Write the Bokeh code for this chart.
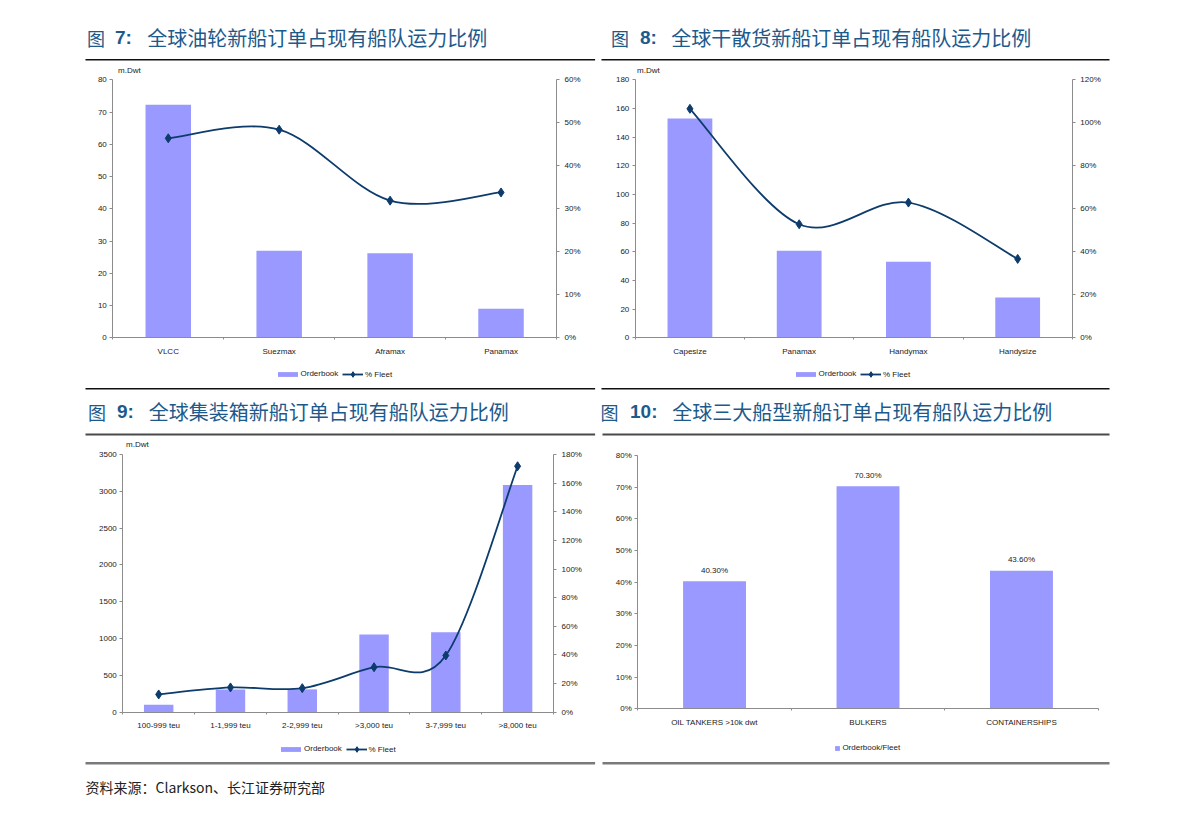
from bokeh.plotting import figure
from bokeh.models import (Range1d, LinearAxis, FixedTicker, Legend, LegendItem,
                          PrintfTickFormatter, ColumnDataSource)
from bokeh.core.properties import value
from bokeh.embed import file_html
from bokeh.resources import INLINE

# ---------------- data ----------------
tanker_cats = ["VLCC", "Suezmax", "Aframax", "Panamax"]
tanker_orderbook = [72.3, 27.0, 26.2, 9.0]          # m.Dwt
tanker_fleet_pct = [46.4, 48.4, 31.9, 33.8]         # % of fleet
tanker_left_ticks = [0, 10, 20, 30, 40, 50, 60, 70, 80]
tanker_right_ticks = [0, 10, 20, 30, 40, 50, 60]

bulk_cats = ["Capesize", "Panamax", "Handymax", "Handysize"]
bulk_orderbook = [153.0, 60.7, 53.0, 28.1]
bulk_fleet_pct = [106.5, 52.8, 62.9, 36.7]
bulk_left_ticks = [0, 20, 40, 60, 80, 100, 120, 140, 160, 180]
bulk_right_ticks = [0, 20, 40, 60, 80, 100, 120]

box_cats = ["100-999 teu", "1-1,999 teu", "2-2,999 teu", ">3,000 teu", "3-7,999 teu", ">8,000 teu"]
box_orderbook = [100, 310, 310, 1055, 1087, 3085]
box_fleet_pct = [12.4, 17.3, 16.8, 31.4, 39.6, 171.8]
box_left_ticks = [0, 500, 1000, 1500, 2000, 2500, 3000, 3500]
box_right_ticks = [0, 20, 40, 60, 80, 100, 120, 140, 160, 180]

type_cats = ["OIL TANKERS >10k dwt", "BULKERS", "CONTAINERSHIPS"]
type_ratio_pct = [40.3, 70.3, 43.6]
type_ticks = [0, 10, 20, 30, 40, 50, 60, 70, 80]

titles = [
    ("图", "7:", "全球油轮新船订单占现有船队运力比例"),
    ("图", "8:", "全球干散货新船订单占现有船队运力比例"),
    ("图", "9:", "全球集装箱新船订单占现有船队运力比例"),
    ("图", "10:", "全球三大船型新船订单占现有船队运力比例"),
]
source_note = "资料来源：Clarkson、长江证券研究部"

# ---------------- style ----------------
W, H = 1190, 815
BAR = "#9999FF"
LINE = "#0C3B6C"
AXIS = "#8C8C8C"
TXT = "#1A1A1A"
TITLE = "#1D5A8C"
FONT = "Liberation Sans"
CJK = "Noto Sans CJK SC"

p = figure(width=W, height=H, output_backend="svg", toolbar_location=None,
           x_range=Range1d(0, W), y_range=Range1d(H, 0), min_border=0,
           x_axis_type=None, y_axis_type=None, outline_line_color=None,
           background_fill_color="white", border_fill_color="white")
p.grid.visible = False


def add_x_range(name, n, x0, x1):
    k = (x1 - x0) / n
    s = -x0 / k
    p.extra_x_ranges[name] = Range1d(s, s + W / k)


def add_y_range(name, vmax, ytop, ybot):
    k = (ybot - ytop) / vmax
    b = ybot / k
    p.extra_y_ranges[name] = Range1d(b - H / k, b)


def style_axis(ax, standoff):
    ax.axis_line_color = AXIS
    ax.major_tick_line_color = AXIS
    ax.major_tick_out = 3
    ax.major_tick_in = 0
    ax.minor_tick_line_color = None
    ax.major_label_text_font = FONT
    ax.major_label_text_font_size = "8px"
    ax.major_label_text_color = TXT
    ax.major_label_standoff = standoff


def smooth_segments(xs, ys):
    n = len(xs)
    d = dict(x0=[], y0=[], x1=[], y1=[], cx0=[], cy0=[], cx1=[], cy1=[])
    for i in range(n - 1):
        im, i2 = max(i - 1, 0), min(i + 2, n - 1)
        d["x0"].append(xs[i]); d["y0"].append(ys[i])
        d["x1"].append(xs[i + 1]); d["y1"].append(ys[i + 1])
        d["cx0"].append(xs[i] + (xs[i + 1] - xs[im]) / 6)
        d["cy0"].append(ys[i] + (ys[i + 1] - ys[im]) / 6)
        d["cx1"].append(xs[i + 1] - (xs[i2] - xs[i]) / 6)
        d["cy1"].append(ys[i + 1] - (ys[i2] - ys[i]) / 6)
    return d


def add_legend(label, renderers, x_left, yc, gw, gh, standoff, lh=8):
    h = max(gh, lh)
    lg = Legend(items=[LegendItem(label=label, renderers=renderers)],
                location=(x_left, H - yc - h / 2), orientation="horizontal",
                padding=0, margin=0, spacing=0, glyph_width=gw, glyph_height=gh,
                label_height=lh, label_width=10, label_standoff=standoff,
                label_text_font=FONT, label_text_font_size="8px", label_text_color=TXT,
                border_line_color=None, background_fill_alpha=0)
    p.add_layout(lg)


def panel(key, cats, bars, frame, left_ticks, pct=None, right_ticks=None,
          left_pct=False, unit_pos=None):
    x0, x1, ytop, ybot = frame
    n = len(cats)
    xn, yn, y2n = key + "x", key + "y", key + "y2"
    add_x_range(xn, n, x0, x1)
    add_y_range(yn, left_ticks[-1], ytop, ybot)
    centers = [i + 0.5 for i in range(n)]

    src = ColumnDataSource(dict(x=centers, top=bars, cat=cats))
    rb = p.vbar(x="x", top="top", bottom=0, width=0.41, source=src,
                x_range_name=xn, y_range_name=yn, fill_color=BAR, line_color=None)

    ax = LinearAxis(y_range_name=yn, fixed_location=x0, bounds=(0, left_ticks[-1]),
                    ticker=FixedTicker(ticks=left_ticks))
    if left_pct:
        ax.formatter = PrintfTickFormatter(format="%d%%")
    style_axis(ax, 3)
    p.add_layout(ax, "left")

    bx = LinearAxis(x_range_name=xn, fixed_location=ybot, bounds=(0, n),
                    ticker=FixedTicker(ticks=centers, minor_ticks=list(range(n + 1))),
                    major_label_overrides={c: s for c, s in zip(centers, cats)})
    style_axis(bx, 7)
    bx.major_tick_out = 0
    bx.major_tick_line_color = None
    bx.minor_tick_line_color = AXIS
    bx.minor_tick_out = 2
    bx.minor_tick_in = 0
    p.add_layout(bx, "below")

    rl = rs = None
    if pct is not None:
        add_y_range(y2n, right_ticks[-1], ytop, ybot)
        rx = LinearAxis(y_range_name=y2n, fixed_location=x1, bounds=(0, right_ticks[-1]),
                        ticker=FixedTicker(ticks=right_ticks),
                        formatter=PrintfTickFormatter(format="%d%%"))
        style_axis(rx, 5)
        p.add_layout(rx, "right")
        seg = ColumnDataSource(smooth_segments(centers, pct))
        rl = p.bezier(x0="x0", y0="y0", x1="x1", y1="y1", cx0="cx0", cy0="cy0",
                      cx1="cx1", cy1="cy1", source=seg, x_range_name=xn, y_range_name=y2n,
                      line_color=LINE, line_width=1.8)
        rs = p.scatter(x=centers, y=pct, marker="diamond", size=9, x_range_name=xn,
                       y_range_name=y2n, fill_color=LINE, line_color=LINE)
    if unit_pos is not None:
        p.text(x=[unit_pos[0]], y=[unit_pos[1]], text=["m.Dwt"], text_font=value(FONT),
               text_font_size="8px", text_color=TXT, text_align="left", text_baseline="middle")
    return rb, rl, rs, xn, yn, centers


# panel 1
rb, rl, rs, *_ = panel("p1", tanker_cats, tanker_orderbook, (112.3, 556, 79.3, 337.3),
                       tanker_left_ticks, tanker_fleet_pct, tanker_right_ticks,
                       unit_pos=(117.5, 69.7))
add_legend("Orderbook", [rb], 274.5, 374.3, 25, 6, 1)
add_legend("% Fleet", [rl, rs], 342, 374.3, 21, 14, 2)

# panel 2
rb, rl, rs, *_ = panel("p2", bulk_cats, bulk_orderbook, (634.8, 1071.8, 79.3, 337.3),
                       bulk_left_ticks, bulk_fleet_pct, bulk_right_ticks,
                       unit_pos=(636.5, 69.7))
add_legend("Orderbook", [rb], 792.5, 374.3, 25, 6, 1)
add_legend("% Fleet", [rl, rs], 860, 374.3, 21, 14, 2)

# panel 3
rb, rl, rs, *_ = panel("p3", box_cats, box_orderbook, (122.3, 553, 454, 711.7),
                       box_left_ticks, box_fleet_pct, box_right_ticks,
                       unit_pos=(125.5, 444.3))
add_legend("Orderbook", [rb], 278, 749, 25, 6, 1)
add_legend("% Fleet", [rl, rs], 345.5, 749, 21, 14, 2)

# panel 4
rb, _, _, xn, yn, centers = panel("p4", type_cats, type_ratio_pct, (637.3, 1097.7, 455, 708.3),
                                  type_ticks, left_pct=True)
p.text(x=centers, y=type_ratio_pct, text=[f"{v:.2f}%" for v in type_ratio_pct],
       x_range_name=xn, y_range_name=yn, y_offset=-11, text_font=value(FONT),
       text_font_size="8px", text_color=TXT, text_align="center", text_baseline="middle")
add_legend("Orderbook/Fleet", [rb], 834.4, 748, 6, 6, 2)

# ---------------- titles, rules, note ----------------
title_pos = [(86.5, 114.5, 146.7, 37.2), (610.5, 639.5, 670.8, 37.2),
             (87.5, 116.5, 148.2, 411.2), (600, 629.5, 671.7, 411.2)]
for (a, b, c), (xa, xb, xc, yy) in zip(titles, title_pos):
    p.text(x=[xa], y=[yy], text=[a], text_font=value(CJK), text_font_size="18px",
           text_color=TITLE, text_baseline="middle")
    p.text(x=[xb], y=[yy], text=[b], text_font=value(FONT), text_font_size="19px",
           text_font_style="bold", text_color=TITLE, text_baseline="middle")
    p.text(x=[xc], y=[yy], text=[c], text_font=value(CJK), text_font_size="20px",
           text_color=TITLE, text_baseline="middle")

p.segment(x0=[85, 601, 85, 601], y0=[59.3, 59.3, 388.3, 388.3],
          x1=[594.6, 1109, 594.6, 1109], y1=[59.3, 59.3, 388.3, 388.3],
          line_color="#111111", line_width=1.4)
p.segment(x0=[85, 602], y0=[434, 434], x1=[594.6, 1109], y1=[434, 434],
          line_color="#4A4A4A", line_width=2)
p.segment(x0=[85, 602], y0=[762.7, 762.7], x1=[594.6, 1109], y1=[762.7, 762.7],
          line_color="#7A7A7A", line_width=2.5)

p.text(x=[85], y=[786], text=[source_note], text_font=value(CJK), text_font_size="14px",
       text_color="#222222", text_baseline="middle")

open("out.html", "w").write(file_html(p, INLINE))
